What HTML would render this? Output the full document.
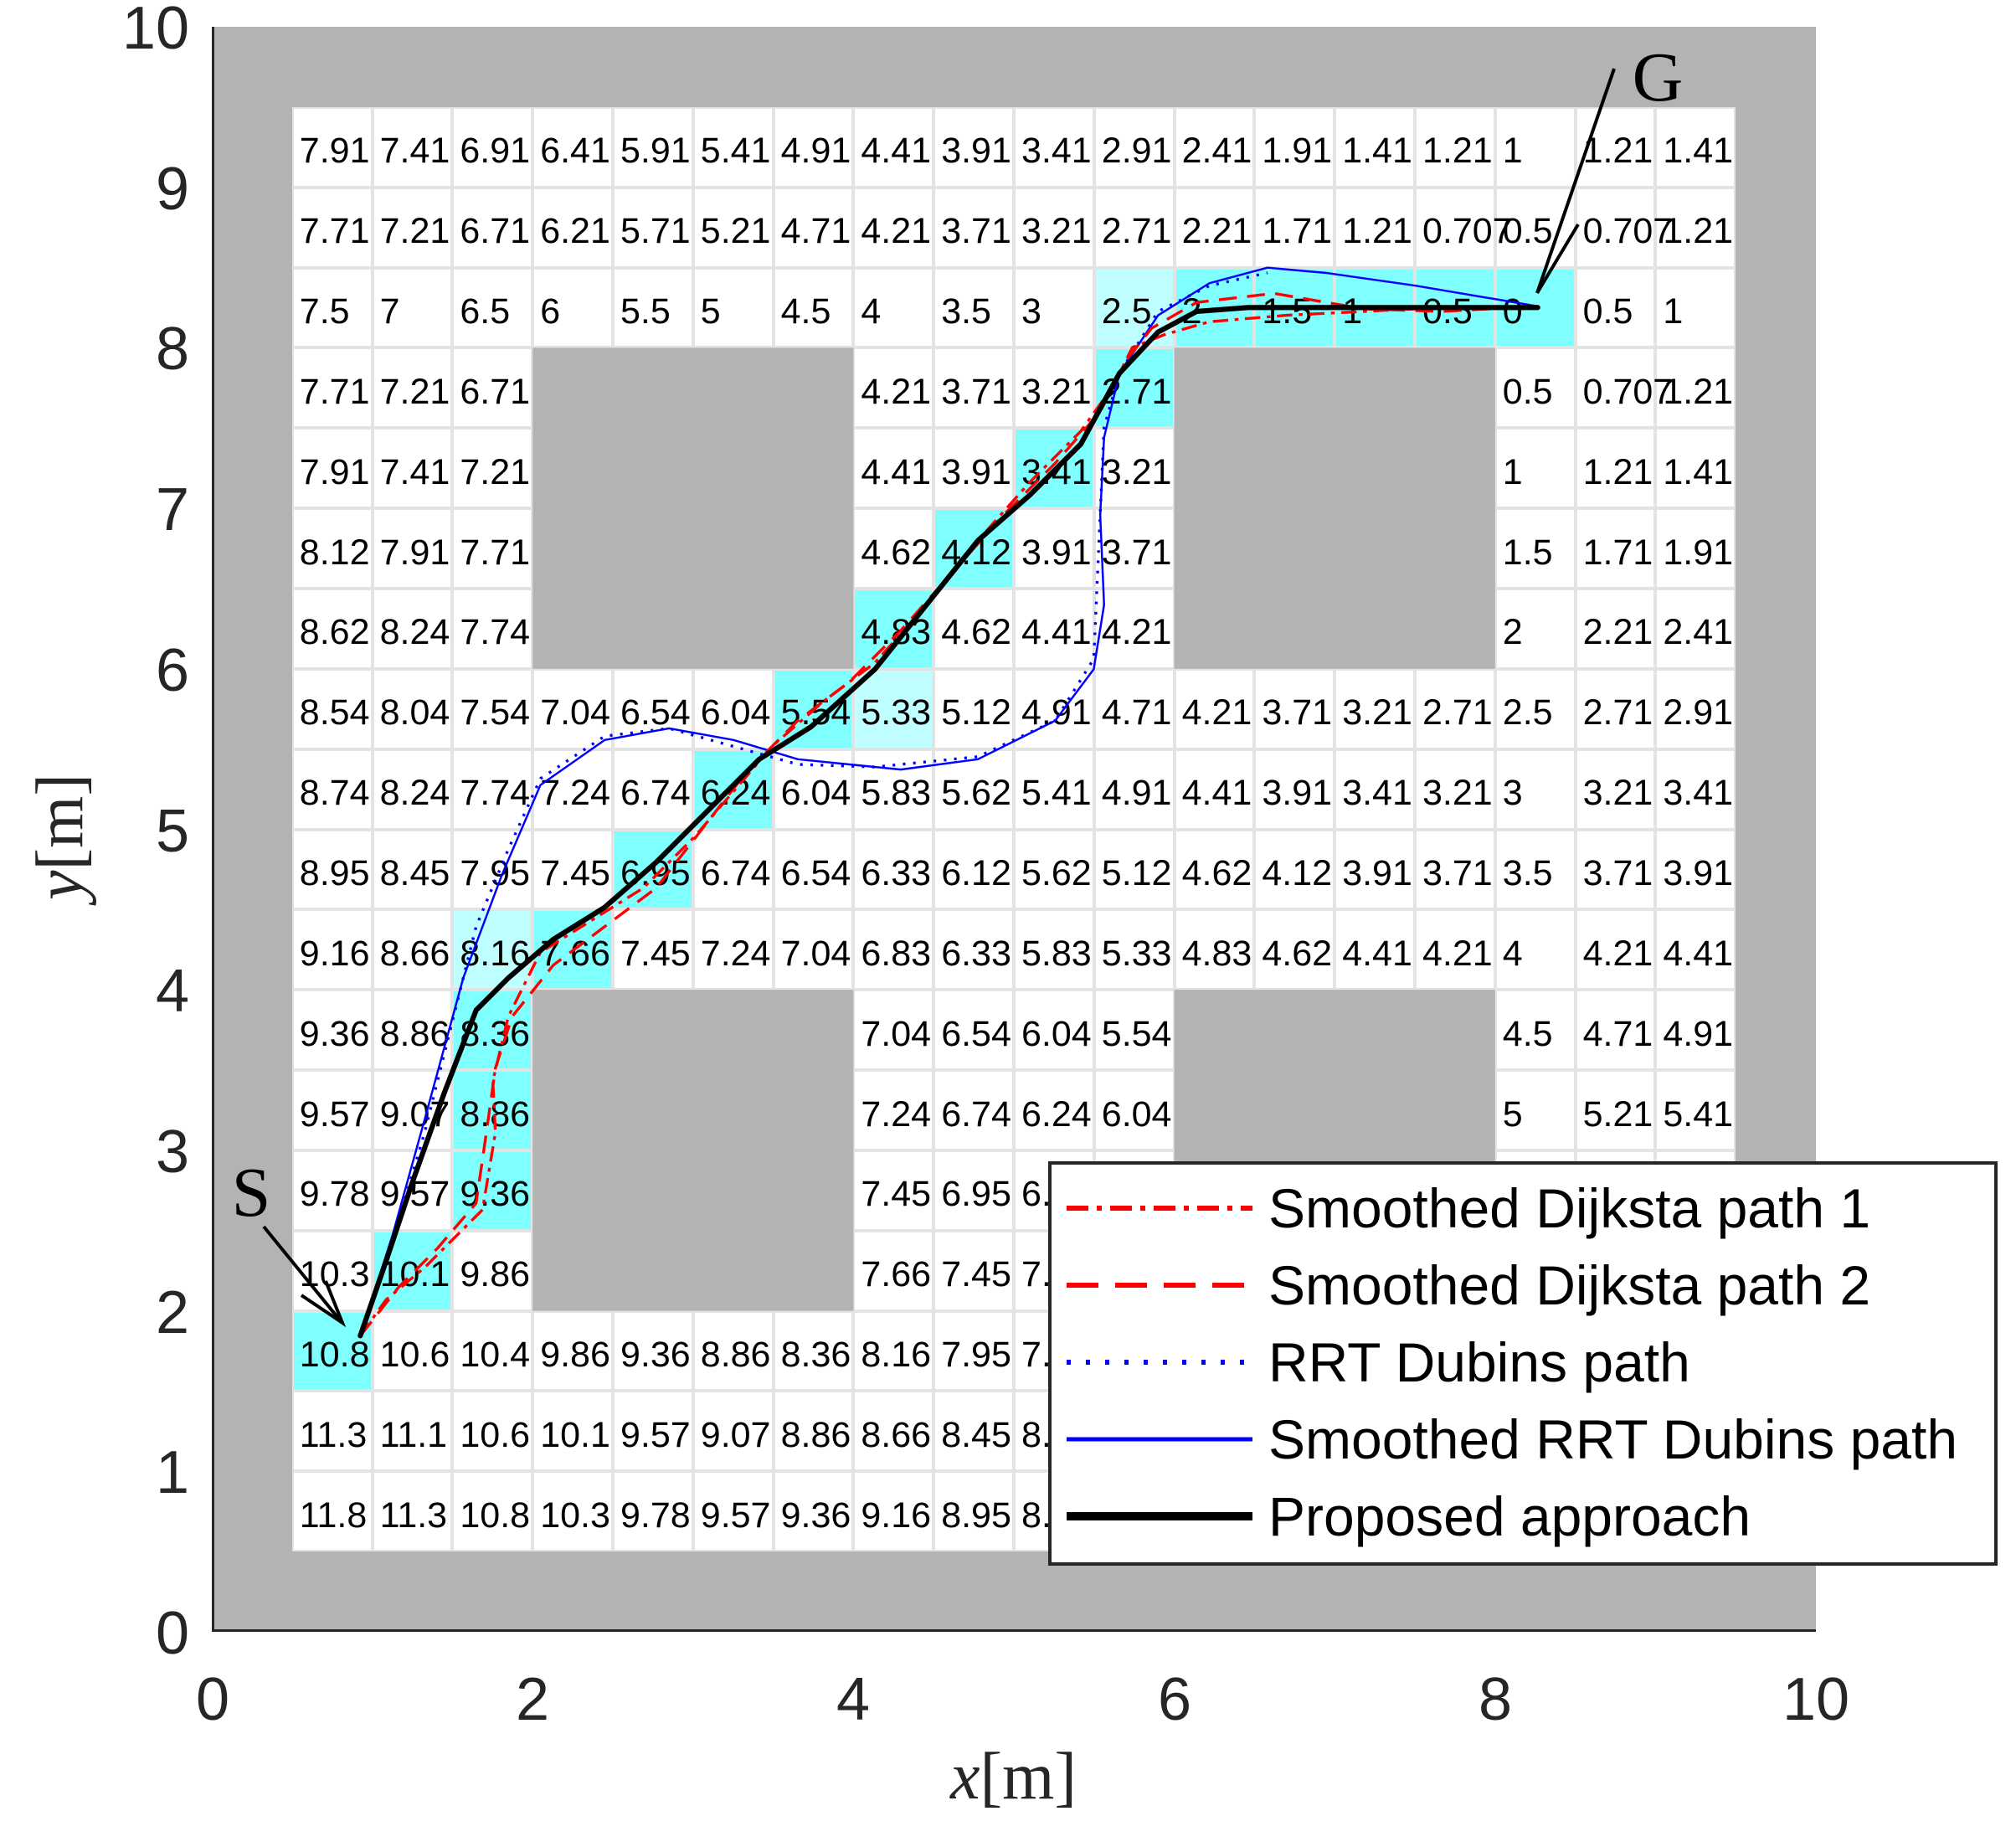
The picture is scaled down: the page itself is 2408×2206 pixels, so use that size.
<!DOCTYPE html>
<html><head><meta charset="utf-8"><style>
html,body{margin:0;padding:0;background:#fff}
#w{position:relative;width:2408px;height:2206px;overflow:hidden;font-family:"Liberation Sans",sans-serif}
#ax{position:absolute;left:253px;top:32px;width:1916px;height:1917px;background:#b3b3b3;border-left:3px solid #262626;border-bottom:3px solid #262626;box-sizing:border-box}
#g{position:absolute;left:348.8px;top:127.9px;width:1724.4px;height:1725.3px;display:grid;grid-template-columns:repeat(18,minmax(0,1fr));grid-template-rows:repeat(18,minmax(0,1fr))}
#g div{box-sizing:border-box;min-width:0;border:2.5px solid #e3e3e3;background:#fff;font-size:43px;display:flex;align-items:center;padding-left:7px;padding-top:10px;white-space:nowrap;overflow:visible;color:#000}
#g div span{position:relative;z-index:1}
#g div.c{background:#80ffff}#g div.l{background:#c0ffff}
svg{position:absolute;left:0;top:0;z-index:2}
</style></head><body><div id="w">
<div id="ax"></div>
<div id="g">
<div><span>7.91</span></div><div><span>7.41</span></div><div><span>6.91</span></div><div><span>6.41</span></div><div><span>5.91</span></div><div><span>5.41</span></div><div><span>4.91</span></div><div><span>4.41</span></div><div><span>3.91</span></div><div><span>3.41</span></div><div><span>2.91</span></div><div><span>2.41</span></div><div><span>1.91</span></div><div><span>1.41</span></div><div><span>1.21</span></div><div><span>1</span></div><div><span>1.21</span></div><div><span>1.41</span></div>
<div><span>7.71</span></div><div><span>7.21</span></div><div><span>6.71</span></div><div><span>6.21</span></div><div><span>5.71</span></div><div><span>5.21</span></div><div><span>4.71</span></div><div><span>4.21</span></div><div><span>3.71</span></div><div><span>3.21</span></div><div><span>2.71</span></div><div><span>2.21</span></div><div><span>1.71</span></div><div><span>1.21</span></div><div><span>0.707</span></div><div><span>0.5</span></div><div><span>0.707</span></div><div><span>1.21</span></div>
<div><span>7.5</span></div><div><span>7</span></div><div><span>6.5</span></div><div><span>6</span></div><div><span>5.5</span></div><div><span>5</span></div><div><span>4.5</span></div><div><span>4</span></div><div><span>3.5</span></div><div><span>3</span></div><div class="l"><span>2.5</span></div><div class="c"><span>2</span></div><div class="c"><span>1.5</span></div><div class="c"><span>1</span></div><div class="c"><span>0.5</span></div><div class="c"><span>0</span></div><div><span>0.5</span></div><div><span>1</span></div>
<div><span>7.71</span></div><div><span>7.21</span></div><div><span>6.71</span></div><div></div><div></div><div></div><div></div><div><span>4.21</span></div><div><span>3.71</span></div><div><span>3.21</span></div><div class="c"><span>2.71</span></div><div></div><div></div><div></div><div></div><div><span>0.5</span></div><div><span>0.707</span></div><div><span>1.21</span></div>
<div><span>7.91</span></div><div><span>7.41</span></div><div><span>7.21</span></div><div></div><div></div><div></div><div></div><div><span>4.41</span></div><div><span>3.91</span></div><div class="c"><span>3.41</span></div><div><span>3.21</span></div><div></div><div></div><div></div><div></div><div><span>1</span></div><div><span>1.21</span></div><div><span>1.41</span></div>
<div><span>8.12</span></div><div><span>7.91</span></div><div><span>7.71</span></div><div></div><div></div><div></div><div></div><div><span>4.62</span></div><div class="c"><span>4.12</span></div><div><span>3.91</span></div><div><span>3.71</span></div><div></div><div></div><div></div><div></div><div><span>1.5</span></div><div><span>1.71</span></div><div><span>1.91</span></div>
<div><span>8.62</span></div><div><span>8.24</span></div><div><span>7.74</span></div><div></div><div></div><div></div><div></div><div class="c"><span>4.83</span></div><div><span>4.62</span></div><div><span>4.41</span></div><div><span>4.21</span></div><div></div><div></div><div></div><div></div><div><span>2</span></div><div><span>2.21</span></div><div><span>2.41</span></div>
<div><span>8.54</span></div><div><span>8.04</span></div><div><span>7.54</span></div><div><span>7.04</span></div><div><span>6.54</span></div><div><span>6.04</span></div><div class="c"><span>5.54</span></div><div class="l"><span>5.33</span></div><div><span>5.12</span></div><div><span>4.91</span></div><div><span>4.71</span></div><div><span>4.21</span></div><div><span>3.71</span></div><div><span>3.21</span></div><div><span>2.71</span></div><div><span>2.5</span></div><div><span>2.71</span></div><div><span>2.91</span></div>
<div><span>8.74</span></div><div><span>8.24</span></div><div><span>7.74</span></div><div><span>7.24</span></div><div><span>6.74</span></div><div class="c"><span>6.24</span></div><div><span>6.04</span></div><div><span>5.83</span></div><div><span>5.62</span></div><div><span>5.41</span></div><div><span>4.91</span></div><div><span>4.41</span></div><div><span>3.91</span></div><div><span>3.41</span></div><div><span>3.21</span></div><div><span>3</span></div><div><span>3.21</span></div><div><span>3.41</span></div>
<div><span>8.95</span></div><div><span>8.45</span></div><div><span>7.95</span></div><div><span>7.45</span></div><div class="c"><span>6.95</span></div><div><span>6.74</span></div><div><span>6.54</span></div><div><span>6.33</span></div><div><span>6.12</span></div><div><span>5.62</span></div><div><span>5.12</span></div><div><span>4.62</span></div><div><span>4.12</span></div><div><span>3.91</span></div><div><span>3.71</span></div><div><span>3.5</span></div><div><span>3.71</span></div><div><span>3.91</span></div>
<div><span>9.16</span></div><div><span>8.66</span></div><div class="l"><span>8.16</span></div><div class="c"><span>7.66</span></div><div><span>7.45</span></div><div><span>7.24</span></div><div><span>7.04</span></div><div><span>6.83</span></div><div><span>6.33</span></div><div><span>5.83</span></div><div><span>5.33</span></div><div><span>4.83</span></div><div><span>4.62</span></div><div><span>4.41</span></div><div><span>4.21</span></div><div><span>4</span></div><div><span>4.21</span></div><div><span>4.41</span></div>
<div><span>9.36</span></div><div><span>8.86</span></div><div class="c"><span>8.36</span></div><div></div><div></div><div></div><div></div><div><span>7.04</span></div><div><span>6.54</span></div><div><span>6.04</span></div><div><span>5.54</span></div><div></div><div></div><div></div><div></div><div><span>4.5</span></div><div><span>4.71</span></div><div><span>4.91</span></div>
<div><span>9.57</span></div><div><span>9.07</span></div><div class="c"><span>8.86</span></div><div></div><div></div><div></div><div></div><div><span>7.24</span></div><div><span>6.74</span></div><div><span>6.24</span></div><div><span>6.04</span></div><div></div><div></div><div></div><div></div><div><span>5</span></div><div><span>5.21</span></div><div><span>5.41</span></div>
<div><span>9.78</span></div><div><span>9.57</span></div><div class="c"><span>9.36</span></div><div></div><div></div><div></div><div></div><div><span>7.45</span></div><div><span>6.95</span></div><div><span>6.45</span></div><div><span>6.24</span></div><div></div><div></div><div></div><div></div><div><span>5.5</span></div><div><span>5.71</span></div><div><span>5.91</span></div>
<div><span>10.3</span></div><div class="c"><span>10.1</span></div><div><span>9.86</span></div><div></div><div></div><div></div><div></div><div><span>7.66</span></div><div><span>7.45</span></div><div><span>7.16</span></div><div><span>6.66</span></div><div></div><div></div><div></div><div></div><div><span>6</span></div><div><span>6.21</span></div><div><span>6.41</span></div>
<div class="c"><span>10.8</span></div><div><span>10.6</span></div><div><span>10.4</span></div><div><span>9.86</span></div><div><span>9.36</span></div><div><span>8.86</span></div><div><span>8.36</span></div><div><span>8.16</span></div><div><span>7.95</span></div><div><span>7.66</span></div><div><span>7.16</span></div><div><span>7.04</span></div><div><span>6.95</span></div><div><span>6.74</span></div><div><span>6.54</span></div><div><span>6.5</span></div><div><span>6.71</span></div><div><span>6.91</span></div>
<div><span>11.3</span></div><div><span>11.1</span></div><div><span>10.6</span></div><div><span>10.1</span></div><div><span>9.57</span></div><div><span>9.07</span></div><div><span>8.86</span></div><div><span>8.66</span></div><div><span>8.45</span></div><div><span>8.16</span></div><div><span>7.66</span></div><div><span>7.54</span></div><div><span>7.45</span></div><div><span>7.24</span></div><div><span>7.04</span></div><div><span>7</span></div><div><span>7.21</span></div><div><span>7.41</span></div>
<div><span>11.8</span></div><div><span>11.3</span></div><div><span>10.8</span></div><div><span>10.3</span></div><div><span>9.78</span></div><div><span>9.57</span></div><div><span>9.36</span></div><div><span>9.16</span></div><div><span>8.95</span></div><div><span>8.66</span></div><div><span>8.16</span></div><div><span>8.04</span></div><div><span>7.95</span></div><div><span>7.74</span></div><div><span>7.54</span></div><div><span>7.5</span></div><div><span>7.71</span></div><div><span>7.91</span></div>
</div>
<svg width="2408" height="2206" viewBox="0 0 2408 2206">
<g fill="#b3b3b3">
<rect x="636.2" y="415.4" width="383.2" height="383.4"/>
<rect x="1402.6" y="415.4" width="383.2" height="383.4"/>
<rect x="636.2" y="1182.2" width="383.2" height="383.4"/>
<rect x="1402.6" y="1182.2" width="383.2" height="383.4"/>
</g>
<g transform="scale(1.537)" fill="none" stroke-linejoin="round" stroke-linecap="butt">
<polyline stroke="#00f" stroke-width="2.2" stroke-dasharray="2,6" points="280,1038 305,965 330,880 350,800 370,720 395,660 420,605 470,572 520,566 570,580 620,594 680,596 760,588 820,560 850,512 855,400 858,332 870,290 900,242 940,222 985,212"/>
<polyline stroke="#00f" stroke-width="1.6" points="280,1038 305,960 330,870 360,760 390,680 420,610 470,575 520,566 570,575 620,590 700,598 760,590 820,560 850,520 858,470 855,400 858,340 870,290 900,245 940,220 985,208 1030,212 1100,222 1195,238"/>
<polyline stroke="#f00" stroke-width="2.2" stroke-dasharray="12,5,3,5" points="280,1038 300,1010 330,985 350,965 375,940 385,880 383,840 395,790 420,740 460,715 500,690 540,650 570,615 600,580 640,545 680,515 720,470 760,420 800,375 840,335 865,300 880,270 905,260 940,250 1000,245 1100,240 1195,238"/>
<polyline stroke="#f00" stroke-width="2.2" stroke-dasharray="14,8" points="280,1038 310,1000 340,970 370,935 378,880 385,830 398,790 430,750 470,720 510,690 545,645 580,600 620,560 660,530 700,490 740,445 780,400 820,360 855,320 875,280 895,255 930,235 990,228 1060,240 1120,242 1195,238"/>
<polyline stroke="#000" stroke-width="4" stroke-linecap="round" points="280,1038 300,980 320,920 345,850 370,785 395,760 430,730 470,705 510,670 550,630 590,590 630,565 680,520 720,470 760,420 800,385 840,345 870,290 900,258 930,242 970,239 1050,239 1195,239"/>
</g>
<g stroke="#000" stroke-width="4" fill="none">
<line x1="315" y1="1465" x2="407" y2="1578"/>
<polyline points="360,1547 409,1580 389,1530"/>
<line x1="1928" y1="82" x2="1836" y2="350"/>
<line x1="1885" y1="268" x2="1836" y2="350"/>
</g>
<g font-family="Liberation Serif,serif" fill="#000">
<text x="300" y="1452" font-size="84" text-anchor="middle">S</text>
<text x="1980" y="120" font-size="84" text-anchor="middle">G</text>
</g>
<g font-size="72" fill="#262626" font-family="Liberation Sans,sans-serif">
<text x="254" y="2054" text-anchor="middle">0</text>
<text x="636" y="2054" text-anchor="middle">2</text>
<text x="1019" y="2054" text-anchor="middle">4</text>
<text x="1403" y="2054" text-anchor="middle">6</text>
<text x="1786" y="2054" text-anchor="middle">8</text>
<text x="2169" y="2054" text-anchor="middle">10</text>
<text x="226" y="1975" text-anchor="end">0</text>
<text x="226" y="1783" text-anchor="end">1</text>
<text x="226" y="1592" text-anchor="end">2</text>
<text x="226" y="1400" text-anchor="end">3</text>
<text x="226" y="1208" text-anchor="end">4</text>
<text x="226" y="1017" text-anchor="end">5</text>
<text x="226" y="825" text-anchor="end">6</text>
<text x="226" y="633" text-anchor="end">7</text>
<text x="226" y="441" text-anchor="end">8</text>
<text x="226" y="250" text-anchor="end">9</text>
<text x="226" y="58" text-anchor="end">10</text>
</g>
<g font-family="Liberation Serif,serif" font-size="80" fill="#262626">
<text x="1135" y="2148"><tspan font-style="italic">x</tspan>[m]</text>
<text transform="translate(98,1075) rotate(-90)"><tspan font-style="italic">y</tspan>[m]</text>
</g>
<rect x="1254" y="1389" width="1130" height="479" fill="#fff" stroke="#262626" stroke-width="4"/>
<g stroke-width="6">
<line x1="1274" y1="1443" x2="1496" y2="1443" stroke="#f00" stroke-dasharray="26,10,6,10"/>
<line x1="1274" y1="1535" x2="1496" y2="1535" stroke="#f00" stroke-dasharray="38,20"/>
<line x1="1274" y1="1627" x2="1496" y2="1627" stroke="#00f" stroke-dasharray="5,18"/>
<line x1="1274" y1="1719" x2="1496" y2="1719" stroke="#00f" stroke-width="5"/>
<line x1="1274" y1="1811" x2="1496" y2="1811" stroke="#000" stroke-width="10"/>
</g>
<g font-size="66" fill="#000" font-family="Liberation Sans,sans-serif">
<text x="1515" y="1466">Smoothed Dijksta path 1</text>
<text x="1515" y="1558">Smoothed Dijksta path 2</text>
<text x="1515" y="1650">RRT Dubins path</text>
<text x="1515" y="1742">Smoothed RRT Dubins path</text>
<text x="1515" y="1834">Proposed approach</text>
</g>
</svg>
</div></body></html>
